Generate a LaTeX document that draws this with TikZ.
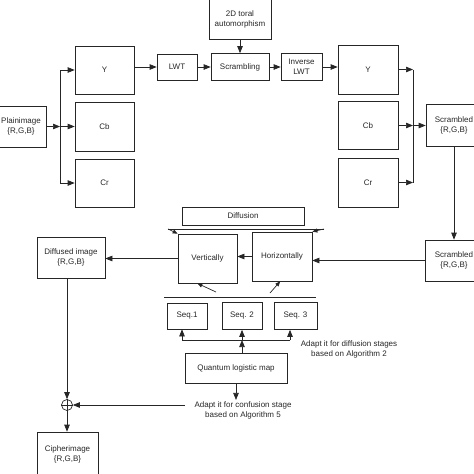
\documentclass[tikz,border=0pt]{standalone}
\usepackage{fontspec}
\setmainfont{Liberation Sans}
\usetikzlibrary{arrows.meta,calc}

\begin{document}
\begin{tikzpicture}[x=1pt, y=-1pt, >={Triangle[length=7pt,width=5.5pt]}, font=\fontsize{8}{10}\selectfont,
		line width=0.7pt, draw=black!85, text=black!85,
		box/.style={draw, align=center, inner sep=0pt},
		note/.style={align=center, inner sep=1pt},
		tick/.style={-{Triangle[length=5pt,width=4pt]}}]
		\useasboundingbox (0,0) rectangle (474,474);
		% encryption: colour split and scrambling
		\node[box, minimum width=51, minimum height=41] (plain) at (21,126.5) {Plainimage\\\{R,G,B\}};
		\node[box, minimum width=59, minimum height=48] (Y1) at (104.5,70) {Y};
		\node[box, minimum width=59, minimum height=49] (Cb1) at (104.5,126.5) {Cb};
		\node[box, minimum width=59, minimum height=48] (Cr1) at (104.5,183) {Cr};
		\node[box, minimum width=40, minimum height=26] (lwt) at (177,67) {LWT};
		\node[box, minimum width=58, minimum height=27] (scr) at (240,67) {Scrambling};
		\node[box, minimum width=62, minimum height=40] (toral) at (240,19) {2D toral\\automorphism};
		\node[box, minimum width=41, minimum height=27] (ilwt) at (301.5,67) {Inverse\\LWT};
		\node[box, minimum width=60, minimum height=49] (Y2) at (368,69.5) {Y};
		\node[box, minimum width=60, minimum height=48] (Cb2) at (368,125.5) {Cb};
		\node[box, minimum width=60, minimum height=49] (Cr2) at (368,182.5) {Cr};
		\node[box, minimum width=56, minimum height=42] (scrd) at (454,125.5) {Scrambled\\\{R,G,B\}};
		\coordinate (split) at (60,126.5);
		\coordinate (merge) at (413,125.5);
		\draw[->] (plain.east) -- (split);
		\draw (split |- Y1) -- (split |- Cr1);
		\draw[->] (split |- Y1) -- (Y1.west);
		\draw[->] (split) -- (Cb1.west);
		\draw[->] (split |- Cr1) -- (Cr1.west);
		\draw[->] (Y1.east |- lwt) -- (lwt.west);
		\draw[->] (lwt.east) -- (scr.west);
		\draw[->] (toral.south) -- (scr.north);
		\draw[->] (scr.east) -- (ilwt.west);
		\draw[->] (ilwt.east) -- (Y2.west |- ilwt);
		\draw[->] (Y2.east) -- (merge |- Y2);
		\draw[->] (Cb2.east) -- (merge);
		\draw[->] (Cr2.east) -- (merge |- Cr2);
		\draw (merge |- Y2) -- (merge |- Cr2);
		\draw[->] (merge) -- (scrd.west);
		% diffusion
		\node[box, minimum width=58, minimum height=41] (scrd2) at (454,260.5) {Scrambled\\\{R,G,B\}};
		\node[box, minimum width=122, minimum height=18] (diff) at (243,216) {Diffusion};
		\node[box, minimum width=59, minimum height=49] (vert) at (207.5,258.5) {Vertically};
		\node[box, minimum width=60, minimum height=49] (horz) at (282,256.5) {Horizontally};
		\node[box, minimum width=68, minimum height=41] (dimg) at (71,257.5) {Diffused image\\\{R,G,B\}};
		\coordinate (dtl) at (168,229);
		\coordinate (dtr) at (324,229);
		\coordinate (dbl) at (164,297);
		\coordinate (dbr) at (316,297);
		\coordinate (vtip) at (216,292);
		\coordinate (htip) at (270,293);
		\draw (dtl) -- (dtr);
		\draw (dbl) -- (dbr);
		\draw[tick] (dtl) -- (vert.north west);
		\draw[tick] (dtr) -- (horz.north east);
		\draw[tick] (vtip) -- ($(vert.south west)!0.33!(vert.south east)$);
		\draw[tick] (htip) -- ($(horz.south west)!0.47!(horz.south east)$);
		\draw[->] (scrd.south) -- (scrd2.north);
		\draw[->] (scrd2.west) -- (horz.east |- scrd2);
		\draw[->] (horz.west) -- (vert.east |- horz);
		\draw[->] (vert.west) -- (dimg.east |- vert);
		% key sequences
		\node[box, minimum width=40, minimum height=26] (seq1) at (187,316) {Seq.1};
		\node[box, minimum width=40, minimum height=27] (seq2) at (242,316) {Seq. 2};
		\node[box, minimum width=43, minimum height=27] (seq3) at (295.5,316) {Seq. 3};
		\node[box, minimum width=102, minimum height=30] (qmap) at (236,368) {Quantum logistic map};
		\node[note] (adiff) at (349,349) {Adapt it for diffusion stages\\based on Algorithm 2};
		\node[note] (aconf) at (243,410) {Adapt it for confusion stage\\based on Algorithm 5};
		\coordinate (bus1) at (182,340);
		\coordinate (bus3) at (290,340);
		\draw (bus1) -- (bus3);
		\draw[->] (bus1) -- (bus1 |- seq1.south);
		\draw[->] (bus3) -- (bus3 |- seq3.south);
		\draw[->] (seq2.south |- qmap.north) -- (seq2.south |- bus1);
		\draw[->] (seq2.south |- bus1) -- (seq2.south);
		\draw[->] (qmap.south) -- (qmap.south |- aconf.north);
		% confusion and output
		\node[draw, circle, minimum size=11, inner sep=0pt] (xor) at (67,405) {};
		\draw (xor.north) -- (xor.south) (xor.west) -- (xor.east);
		\node[box, minimum width=61, minimum height=44] (ciph) at (67.5,454) {Cipherimage\\\{R,G,B\}};
		\coordinate (cfl) at (185,405);
		\draw[->] (xor |- dimg.south) -- (xor.north);
		\draw[->] (cfl) -- (xor.east);
		\draw[->] (xor.south) -- (xor |- ciph.north);
	\end{tikzpicture}
\end{document}
